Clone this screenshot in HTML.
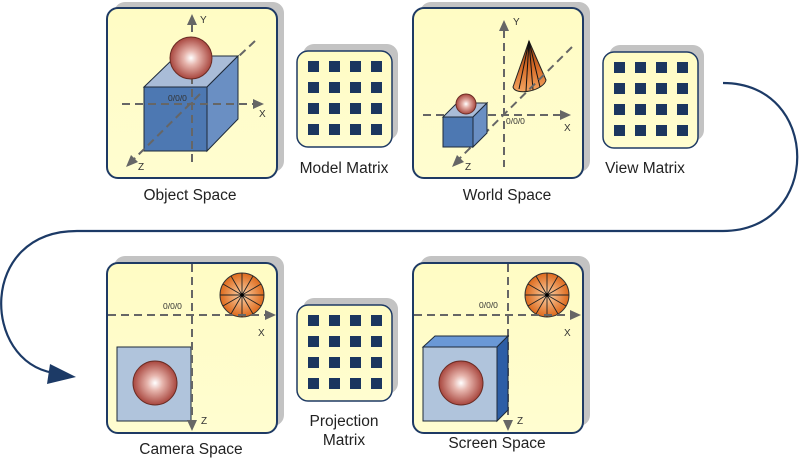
<!DOCTYPE html>
<html><head><meta charset="utf-8"><style>
html,body{margin:0;padding:0;background:#fff;}
svg{display:block;}
text{font-family:"Liberation Sans",sans-serif;}
</style></head><body>
<svg width="800" height="460" viewBox="0 0 800 460" xmlns="http://www.w3.org/2000/svg">
<defs>
<radialGradient id="rs" cx="50%" cy="50%" r="50%">
<stop offset="0" stop-color="#ffffff"/><stop offset="0.35" stop-color="#e6b4ac"/><stop offset="1" stop-color="#a8463e"/>
</radialGradient>
<radialGradient id="ob" cx="50%" cy="50%" r="50%">
<stop offset="0" stop-color="#fbd2a8"/><stop offset="1" stop-color="#de6a1c"/>
</radialGradient>
<linearGradient id="cone" x1="0" y1="0" x2="0" y2="1">
<stop offset="0" stop-color="#8a3a10"/><stop offset="0.5" stop-color="#d56a26"/><stop offset="1" stop-color="#f3a460"/>
</linearGradient>
<linearGradient id="bx" x1="0" y1="0" x2="0" y2="1">
<stop offset="0" stop-color="#fffcc4"/><stop offset="1" stop-color="#fffdd0"/>
</linearGradient>
<g id="mat">
<rect x="0" y="0" width="11" height="11"/><rect x="21" y="0" width="11" height="11"/><rect x="42" y="0" width="11" height="11"/><rect x="63" y="0" width="11" height="11"/>
<rect x="0" y="21" width="11" height="11"/><rect x="21" y="21" width="11" height="11"/><rect x="42" y="21" width="11" height="11"/><rect x="63" y="21" width="11" height="11"/>
<rect x="0" y="42" width="11" height="11"/><rect x="21" y="42" width="11" height="11"/><rect x="42" y="42" width="11" height="11"/><rect x="63" y="42" width="11" height="11"/>
<rect x="0" y="63" width="11" height="11"/><rect x="21" y="63" width="11" height="11"/><rect x="42" y="63" width="11" height="11"/><rect x="63" y="63" width="11" height="11"/>
</g>
</defs>

<!-- connector -->
<path d="M723,83 C822,83 822,231 723,231 L77,231 C-22,231 -18,362 54,373" fill="none" stroke="#1c3a66" stroke-width="2.2"/>
<polygon points="50,364 47,384 76,377" fill="#1c3a66"/>

<!-- ===== Object Space ===== -->
<rect x="114" y="2" width="170" height="170" rx="11" fill="#c3c3c3"/>
<rect x="107" y="8" width="170" height="170" rx="11" fill="url(#bx)" stroke="#1e3a64" stroke-width="2"/>
<polygon points="144,87 176,56 238,56 207,87" fill="#a9bcd8" stroke="#1e2a3a" stroke-width="1"/>
<polygon points="207,87 238,56 238,119 207,151" fill="#6a8fc3" stroke="#1e2a3a" stroke-width="1"/>
<rect x="144" y="87" width="63" height="64" fill="#4d78b2" stroke="#1e2a3a" stroke-width="1"/>
<g stroke="#666" stroke-width="2" stroke-dasharray="8 5" fill="none">
<line x1="192" y1="24" x2="192" y2="167"/>
<line x1="122" y1="104" x2="256" y2="104"/>
<line x1="255" y1="41" x2="239" y2="56"/>
<line x1="200" y1="94" x2="133" y2="160"/>
</g>
<g fill="#666">
<polygon points="192,14 187,25 197,25"/>
<polygon points="264,104 253,99 253,109"/>
<polygon points="126,167 131,155 138,162"/>
</g>
<circle cx="191" cy="58" r="21" fill="url(#rs)" stroke="#6a2c24" stroke-width="1"/>
<text x="168" y="101" font-size="8.5" fill="#333">0/0/0</text>
<text x="200" y="23" font-size="10" fill="#333">Y</text>
<text x="259" y="117" font-size="10" fill="#333">X</text>
<text x="138" y="170" font-size="10" fill="#333">Z</text>
<text x="190" y="200" font-size="15.5" fill="#222" text-anchor="middle">Object Space</text>

<!-- ===== Model Matrix ===== -->
<rect x="303" y="44" width="95" height="96" rx="11" fill="#c3c3c3"/>
<rect x="297" y="51" width="95" height="96" rx="11" fill="url(#bx)" stroke="#1e3a64" stroke-width="1.5"/>
<use href="#mat" x="308" y="61" fill="#1b365f"/>
<text x="344" y="173" font-size="15.5" fill="#222" text-anchor="middle">Model Matrix</text>

<!-- ===== World Space ===== -->
<rect x="420" y="2" width="170" height="170" rx="11" fill="#c3c3c3"/>
<rect x="413" y="8" width="170" height="170" rx="11" fill="url(#bx)" stroke="#1e3a64" stroke-width="2"/>
<path d="M529,41 L513,87 A17,8 -15 0 0 546,80 Z" fill="url(#cone)" stroke="#222" stroke-width="1"/>
<g stroke="#111" stroke-width="1">
<line x1="529" y1="41" x2="519" y2="89"/>
<line x1="529" y1="41" x2="526" y2="91"/>
<line x1="529" y1="41" x2="533" y2="90"/>
<line x1="529" y1="41" x2="540" y2="87"/>
</g>
<g stroke="#666" stroke-width="2" stroke-dasharray="8 5" fill="none">
<line x1="504" y1="30" x2="504" y2="167"/>
<line x1="423" y1="115" x2="562" y2="115"/>
<line x1="572" y1="47" x2="459" y2="159"/>
</g>
<g fill="#666">
<polygon points="504,20 499,31 509,31"/>
<polygon points="571,115 560,110 560,120"/>
<polygon points="452,167 457,155 464,162"/>
</g>
<polygon points="443,117 457,103 487,103 473,117" fill="#a9bcd8" stroke="#1e2a3a" stroke-width="1"/>
<polygon points="473,117 487,103 487,133 473,147" fill="#6a8fc3" stroke="#1e2a3a" stroke-width="1"/>
<rect x="443" y="117" width="30" height="30" fill="#4d78b2" stroke="#1e2a3a" stroke-width="1"/>
<circle cx="466" cy="104" r="10" fill="url(#rs)" stroke="#6a2c24" stroke-width="1"/>
<text x="506" y="124" font-size="8.5" fill="#333">0/0/0</text>
<text x="513" y="25" font-size="10" fill="#333">Y</text>
<text x="564" y="131" font-size="10" fill="#333">X</text>
<text x="465" y="170" font-size="10" fill="#333">Z</text>
<text x="507" y="200" font-size="15.5" fill="#222" text-anchor="middle">World Space</text>

<!-- ===== View Matrix ===== -->
<rect x="609" y="45" width="95" height="96" rx="11" fill="#c3c3c3"/>
<rect x="603" y="52" width="95" height="96" rx="11" fill="url(#bx)" stroke="#1e3a64" stroke-width="1.5"/>
<use href="#mat" x="614" y="62" fill="#1b365f"/>
<text x="645" y="173" font-size="15.5" fill="#222" text-anchor="middle">View Matrix</text>

<!-- ===== Camera Space ===== -->
<rect x="114" y="256" width="170" height="170" rx="11" fill="#c3c3c3"/>
<rect x="107" y="263" width="170" height="170" rx="11" fill="url(#bx)" stroke="#1e3a64" stroke-width="2"/>
<rect x="117" y="347" width="74" height="74" fill="#b0c4dc" stroke="#1e2a3a" stroke-width="1"/>
<circle cx="155" cy="383" r="22" fill="url(#rs)" stroke="#6a2c24" stroke-width="1"/>
<circle cx="242" cy="295" r="22" fill="url(#ob)" stroke="#333" stroke-width="1"/>
<g stroke="#222" stroke-width="0.9">
<line x1="242" y1="273" x2="242" y2="317"/>
<line x1="220" y1="295" x2="264" y2="295"/>
<line x1="231" y1="276" x2="253" y2="314"/>
<line x1="253" y1="276" x2="231" y2="314"/>
<line x1="223" y1="284" x2="261" y2="306"/>
<line x1="223" y1="306" x2="261" y2="284"/>
</g>
<circle cx="242" cy="295" r="1.8" fill="#000"/>
<g stroke="#666" stroke-width="2" stroke-dasharray="8 5" fill="none">
<line x1="192" y1="264" x2="192" y2="421"/>
<line x1="108" y1="315" x2="266" y2="315"/>
</g>
<g fill="#666">
<polygon points="192,431 187,420 197,420"/>
<polygon points="276,315 265,310 265,320"/>
</g>
<text x="163" y="309" font-size="8.5" fill="#333">0/0/0</text>
<text x="258" y="336" font-size="10" fill="#333">X</text>
<text x="201" y="424" font-size="10" fill="#333">Z</text>
<text x="191" y="454" font-size="15.5" fill="#222" text-anchor="middle">Camera Space</text>

<!-- ===== Projection Matrix ===== -->
<rect x="303" y="298" width="95" height="96" rx="11" fill="#c3c3c3"/>
<rect x="297" y="305" width="95" height="96" rx="11" fill="url(#bx)" stroke="#1e3a64" stroke-width="1.5"/>
<use href="#mat" x="308" y="315" fill="#1b365f"/>
<text x="344" y="426" font-size="15.5" fill="#222" text-anchor="middle">Projection</text>
<text x="344" y="445" font-size="15.5" fill="#222" text-anchor="middle">Matrix</text>

<!-- ===== Screen Space ===== -->
<rect x="420" y="256" width="170" height="170" rx="11" fill="#c3c3c3"/>
<rect x="413" y="263" width="170" height="170" rx="11" fill="url(#bx)" stroke="#1e3a64" stroke-width="2"/>
<circle cx="547" cy="295" r="22" fill="url(#ob)" stroke="#333" stroke-width="1"/>
<g stroke="#222" stroke-width="0.9">
<line x1="547" y1="273" x2="547" y2="317"/>
<line x1="525" y1="295" x2="569" y2="295"/>
<line x1="536" y1="276" x2="558" y2="314"/>
<line x1="558" y1="276" x2="536" y2="314"/>
<line x1="528" y1="284" x2="566" y2="306"/>
<line x1="528" y1="306" x2="566" y2="284"/>
</g>
<circle cx="547" cy="295" r="1.8" fill="#000"/>
<g stroke="#666" stroke-width="2" stroke-dasharray="8 5" fill="none">
<line x1="508" y1="264" x2="508" y2="421"/>
<line x1="414" y1="315" x2="571" y2="315"/>
</g>
<g fill="#666">
<polygon points="508,431 503,420 513,420"/>
<polygon points="581,315 570,310 570,320"/>
</g>
<polygon points="423,347 435,336 508,336 497,347" fill="#6a98d6" stroke="#1e2a3a" stroke-width="1"/>
<polygon points="497,347 508,336 508,410 497,421" fill="#2d5ea6" stroke="#1e2a3a" stroke-width="1"/>
<rect x="423" y="347" width="74" height="74" fill="#b0c4dc" stroke="#1e2a3a" stroke-width="1"/>
<circle cx="461" cy="383" r="22" fill="url(#rs)" stroke="#6a2c24" stroke-width="1"/>
<text x="479" y="308" font-size="8.5" fill="#333">0/0/0</text>
<text x="564" y="336" font-size="10" fill="#333">X</text>
<text x="517" y="424" font-size="10" fill="#333">Z</text>
<text x="497" y="448" font-size="15.5" fill="#222" text-anchor="middle">Screen Space</text>
</svg>
</body></html>
